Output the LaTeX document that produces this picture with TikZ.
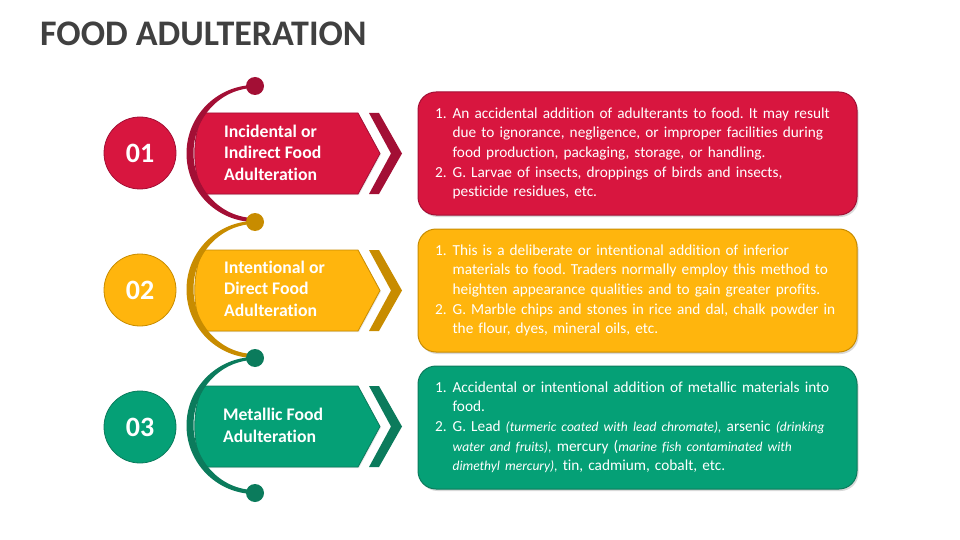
\documentclass[tikz,border=0pt]{standalone}
\usepackage{fontspec}
\usepackage{array}
\setmainfont{Carlito}[Ligatures=NoCommon]
\usetikzlibrary{shadows}

\definecolor{redfill}{HTML}{D8163F}
\definecolor{reddark}{HTML}{A30F35}
\definecolor{amberfill}{HTML}{FFB50D}
\definecolor{amberdark}{HTML}{C88C00}
\definecolor{greenfill}{HTML}{05A076}
\definecolor{greendark}{HTML}{0B7B5C}
\definecolor{titlegray}{HTML}{404040}

\newcommand{\smallit}[1]{{\fontsize{13.5}{19.6}\selectfont\itshape #1}}

\begin{document}
\frenchspacing
\begin{tikzpicture}[x=1pt,y=-1pt]
            \tikzset{numcircle/.style = {shape=circle,draw,line width=0.8pt,minimum size=72pt,inner sep=0pt,text=white,font=\fontsize{28}{30}\selectfont\bfseries}}
            \tikzset{headtext/.style = {anchor=west,align=left,inner sep=0pt,text=white,font=\fontsize{17.7}{21.5}\selectfont\bfseries}}
            \tikzset{listbox/.style = {shape=rectangle,rounded corners=18pt,draw,line width=1pt,minimum width=439pt,minimum height=123pt,text width=405pt,inner xsep=17pt,inner ysep=0pt,text=white,font=\fontsize{15.3}{19.6}\selectfont,drop shadow={shadow xshift=1.5pt,shadow yshift=-2pt,opacity=0.3}}}
            \tikzset{tagshape/.style = {line width=0.8pt,drop shadow={shadow xshift=1pt,shadow yshift=-1pt,opacity=0.2}}}
            \tikzset{dot/.style = {shape=circle,minimum size=18pt,inner sep=0pt}}

            \useasboundingbox (0,0) rectangle (960,540);

            \node[anchor=west,inner sep=0pt,text=titlegray,font=\fontsize{36}{40}\selectfont\bfseries] (title) at (40,34) {FOOD ADULTERATION};

            % row 1
            \node[numcircle,fill=redfill,draw=reddark] (num1) at (140,153) {01};
            \draw[tagshape,fill=redfill,draw=reddark] (203,113) -- (358,113) -- (380,153.5) -- (358,194) -- (203,194) .. controls (192,170) and (192,137) .. (203,113) -- cycle;
            \fill[reddark] (369,113) -- (379,113) -- (402,153.5) -- (379,194) -- (369,194) -- (391,153.5) -- cycle;
            \fill[reddark] (255,85) arc[start angle=270,end angle=90,x radius=68.5,y radius=68.5] -- (255,218) arc[start angle=90,end angle=270,x radius=61.5,y radius=65] -- cycle;
            \node[dot,fill=reddark] (top1) at (255,86) {};
            \node[headtext] (head1) at (224,152.5) {Incidental or\\Indirect Food\\Adulteration};
            \node[listbox,fill=redfill,draw=reddark] (list1) at (637.5,153.5) {\begin{tabular}{@{}l@{\hspace{6pt}}l@{}}
            1.&An accidental addition of adulterants to food. It may result\\
            &due to ignorance, negligence, or improper facilities during\\
            &food production, packaging, storage, or handling.\\
            2.&G. Larvae of insects, droppings of birds and insects,\\
            &pesticide residues, etc.
            \end{tabular}};

            % row 2
            \node[numcircle,fill=amberfill,draw=amberdark] (num2) at (140,290) {02};
            \draw[tagshape,fill=amberfill,draw=amberdark] (203,250) -- (358,250) -- (380,290.5) -- (358,331) -- (203,331) .. controls (192,307) and (192,274) .. (203,250) -- cycle;
            \fill[amberdark] (369,250) -- (379,250) -- (402,290.5) -- (379,331) -- (369,331) -- (391,290.5) -- cycle;
            \fill[amberdark] (255,221) arc[start angle=270,end angle=90,x radius=68.5,y radius=68.5] -- (255,354) arc[start angle=90,end angle=270,x radius=61.5,y radius=65] -- cycle;
            \node[dot,fill=amberdark] (top2) at (255,222) {};
            \node[headtext] (head2) at (224,288.5) {Intentional or\\Direct Food\\Adulteration};
            \node[listbox,fill=amberfill,draw=amberdark] (list2) at (637.5,290.5) {\begin{tabular}{@{}l@{\hspace{6pt}}l@{}}
            1.&This is a deliberate or intentional addition of inferior\\
            &materials to food. Traders normally employ this method to\\
            &heighten appearance qualities and to gain greater profits.\\
            2.&G. Marble chips and stones in rice and dal, chalk powder in\\
            &the flour, dyes, mineral oils, etc.
            \end{tabular}};

            % row 3
            \node[numcircle,fill=greenfill,draw=greendark] (num3) at (140,427) {03};
            \draw[tagshape,fill=greenfill,draw=greendark] (203,386) -- (358,386) -- (380,426.5) -- (358,467) -- (203,467) .. controls (192,443) and (192,410) .. (203,386) -- cycle;
            \fill[greendark] (369,386) -- (379,386) -- (402,426.5) -- (379,467) -- (369,467) -- (391,426.5) -- cycle;
            \fill[greendark] (255,357) arc[start angle=270,end angle=90,x radius=68.5,y radius=68.5] -- (255,490) arc[start angle=90,end angle=270,x radius=61.5,y radius=65] -- cycle;
            \node[dot,fill=greendark] (top3) at (255,358) {};
            \node[dot,fill=greendark] (end3) at (255,493) {};
            \node[headtext] (head3) at (223,425.5) {Metallic Food\\Adulteration};
            \node[listbox,fill=greenfill,draw=greendark] (list3) at (637.5,427.5) {\begin{tabular}{@{}l@{\hspace{6pt}}l@{}}
            1.&Accidental or intentional addition of metallic materials into\\
            &food.\\
            2.&G. Lead \smallit{(turmeric coated with lead chromate),} arsenic \smallit{(drinking}\\
            &\smallit{water and fruits),} mercury (\smallit{marine fish contaminated with}\\
            &\smallit{dimethyl mercury),} tin, cadmium, cobalt, etc.
            \end{tabular}};

\end{tikzpicture}
\end{document}
